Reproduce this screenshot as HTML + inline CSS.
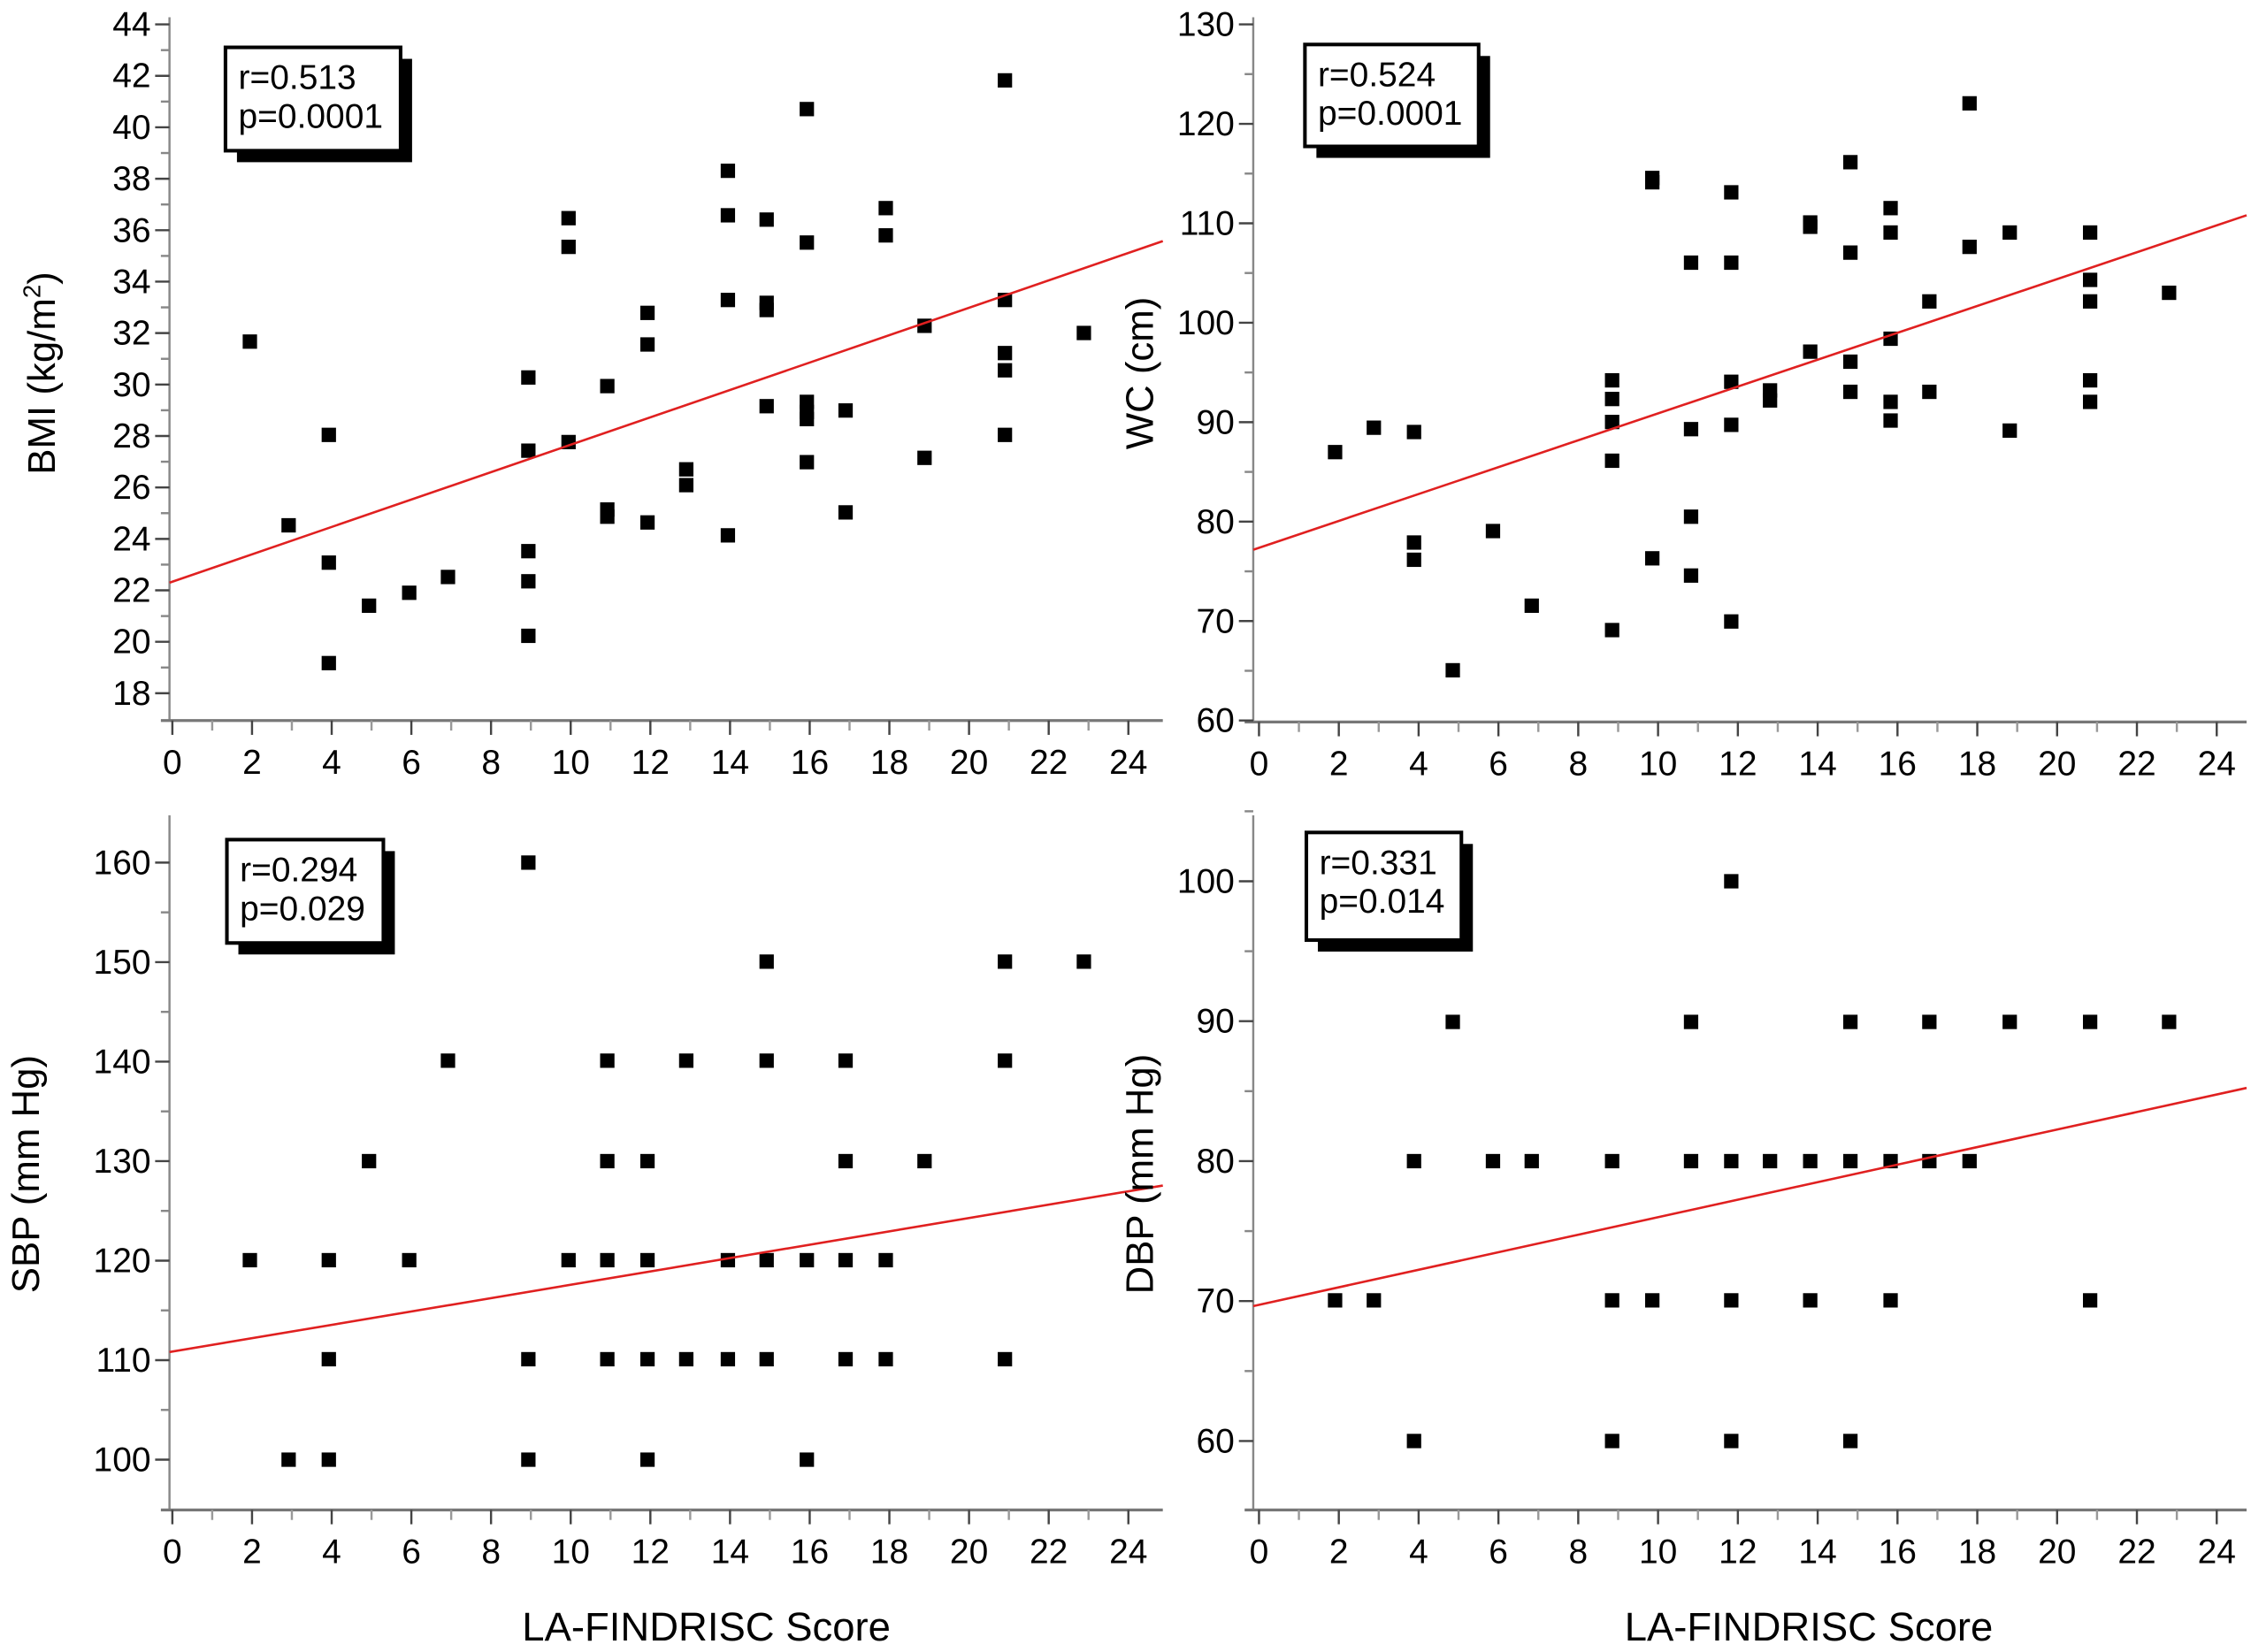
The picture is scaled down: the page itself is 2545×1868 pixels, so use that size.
<!DOCTYPE html>
<html><head><meta charset="utf-8"><style>
html,body{margin:0;padding:0;background:#fff;}
svg{display:block;}
text{font-family:"Liberation Sans",Arial,sans-serif;fill:#000;}
</style></head><body>
<svg id="s" width="2545" height="1868" viewBox="0 0 1568 1151" xmlns="http://www.w3.org/2000/svg"></svg>
<script>
const s=document.getElementById('s');let h='';
function panel(o){
 h+=`<line x1="${o.ax}" y1="${o.ytop}" x2="${o.ax}" y2="${o.ay}" stroke="#888" stroke-width="1.5"/>`;
 h+=`<line x1="${o.ax-6}" y1="${o.ay}" x2="${o.xend}" y2="${o.ay}" stroke="#777" stroke-width="2"/>`;
 for(let v=0;v<=24;v++){let x=o.x0+v*o.xs;let maj=v%2==0;
  h+=`<line x1="${x}" y1="${o.ay}" x2="${x}" y2="${o.ay+(maj?10:7)}" stroke="${maj?'#444':'#999'}" stroke-width="1.5"/>`;
  if(maj)h+=`<text x="${x}" y="${o.ay+37}" font-size="24" text-anchor="middle">${v}</text>`;}
 o.yt.forEach(t=>{h+=`<line x1="${o.ax-(t[1]===null?6:10)}" y1="${t[0]}" x2="${o.ax}" y2="${t[0]}" stroke="${t[1]===null?'#888':'#444'}" stroke-width="1.5"/>`;
  if(t[1]!==null)h+=`<text x="${o.ax-13}" y="${t[0]+8}" font-size="24" text-anchor="end">${t[1]}</text>`;});
 o.pts.forEach(p=>{h+=`<rect x="${p[0]-5}" y="${p[1]-5}" width="10" height="10" fill="#000"/>`;});
 h+=`<line x1="${o.ln[0]}" y1="${o.ln[1]}" x2="${o.ln[2]}" y2="${o.ln[3]}" stroke="#e02020" stroke-width="1.6"/>`;
 const b=o.box;
 h+=`<rect x="${b[0]+8}" y="${b[1]+8}" width="${b[2]}" height="${b[3]}" fill="#000"/>`;
 h+=`<rect x="${b[0]}" y="${b[1]}" width="${b[2]}" height="${b[3]}" fill="#fff" stroke="#000" stroke-width="2.5"/>`;
 h+=`<text x="${b[0]+9}" y="${b[1]+29}" font-size="24">${o.t1}</text><text x="${b[0]+9}" y="${b[1]+56}" font-size="24">${o.t2}</text>`;
}
function yt(a,b,top,bot,step,half){let r=[];let n=Math.round((b-a)/step);for(let i=0;i<=n;i++){let y=bot-(bot-top)*i/n;r.push([y,a+i*step]);if(half&&i<n)r.push([y-(bot-top)/n/2,null]);}return r;}
panel({ax:118,ay:502,ytop:12,x0:120,xs:27.75,xend:810,yt:yt(18,44,17,483,2,true),
pts:[[174,238],[201,366],[229,303],[229,392],[229,462],[257,422],[285,413],[312,402],[368,263],[368,314],[368,384],[368,405],[368,443],[396,152],[396,172],[396,308],[423,269],[423,355],[423,360],[451,218],[451,240],[451,364],[478,327],[478,338],[507,119],[507,150],[507,209],[507,373],[534,153],[534,211],[534,216],[534,283],[562,76],[562,169],[562,280],[562,287],[562,292],[562,322],[589,286],[589,357],[617,145],[617,164],[644,227],[644,319],[700,56],[700,209],[700,246],[700,258],[700,303],[755,232]],
ln:[118,406,810,168],box:[157,33,122,72],t1:"r=0.513",t2:"p=0.0001"});
panel({ax:873,ay:503,ytop:12,x0:877,xs:27.8,xend:1565,yt:yt(60,130,17,502,10,true),
pts:[[930,315],[957,298],[985,301],[985,378],[985,390],[1012,467],[1040,370],[1067,422],[1123,265],[1123,278],[1123,294],[1123,321],[1123,439],[1151,124],[1151,127],[1151,389],[1178,183],[1178,299],[1178,360],[1178,401],[1206,134],[1206,183],[1206,266],[1206,296],[1206,433],[1233,272],[1233,279],[1261,155],[1261,158],[1261,245],[1289,113],[1289,176],[1289,252],[1289,273],[1317,145],[1317,162],[1317,236],[1317,280],[1317,293],[1344,210],[1344,273],[1372,72],[1372,172],[1400,162],[1400,300],[1456,162],[1456,195],[1456,210],[1456,265],[1456,280],[1511,204]],
ln:[873,383,1565,150],box:[909,31,121,71],t1:"r=0.524",t2:"p=0.0001"});
panel({ax:118,ay:1052,ytop:568,x0:120,xs:27.75,xend:810,yt:yt(100,160,601,1017,10,true),
pts:[[174,878],[201,1017],[229,878],[229,947],[229,1017],[257,809],[285,878],[312,739],[368,601],[368,947],[368,1017],[396,878],[423,739],[423,809],[423,878],[423,947],[451,809],[451,878],[451,947],[451,1017],[478,739],[478,947],[507,878],[507,947],[534,670],[534,739],[534,878],[534,947],[562,878],[562,1017],[589,739],[589,809],[589,878],[589,947],[617,878],[617,947],[644,809],[700,670],[700,739],[700,947],[755,670]],
ln:[118,942,810,826],box:[158,585,109,72],t1:"r=0.294",t2:"p=0.029"});
panel({ax:873,ay:1052,ytop:568,x0:877,xs:27.8,xend:1565,yt:yt(60,100,614,1004,10,true).concat([[614-48.75,null]]),
pts:[[930,906],[957,906],[985,809],[985,1004],[1012,712],[1040,809],[1067,809],[1123,809],[1123,906],[1123,1004],[1151,906],[1178,712],[1178,809],[1206,614],[1206,809],[1206,906],[1206,1004],[1233,809],[1261,809],[1261,906],[1289,712],[1289,809],[1289,1004],[1317,809],[1317,906],[1344,712],[1344,809],[1372,809],[1400,712],[1456,712],[1456,906],[1511,712]],
ln:[873,910,1565,758],box:[910,580,108,75],t1:"r=0.331",t2:"p=0.014"});
h+=`<text transform="translate(38,260) rotate(-90)" font-size="27" text-anchor="middle">BMI (kg/m<tspan font-size="17" dy="-10">2</tspan><tspan dy="10">)</tspan></text>`;
h+=`<text transform="translate(803,260) rotate(-90)" font-size="27" text-anchor="middle">WC (cm)</text>`;
h+=`<text transform="translate(27,818) rotate(-90)" font-size="27" text-anchor="middle">SBP (mm Hg)</text>`;
h+=`<text transform="translate(803,818) rotate(-90)" font-size="27" text-anchor="middle">DBP (mm Hg)</text>`;
h+=`<text x="492" y="1143" font-size="28" text-anchor="middle">LA-FINDRISC Score</text>`;
h+=`<text x="1260" y="1143" font-size="28" text-anchor="middle">LA-FINDRISC Score</text>`;
s.innerHTML=h;
</script>
</body></html>
